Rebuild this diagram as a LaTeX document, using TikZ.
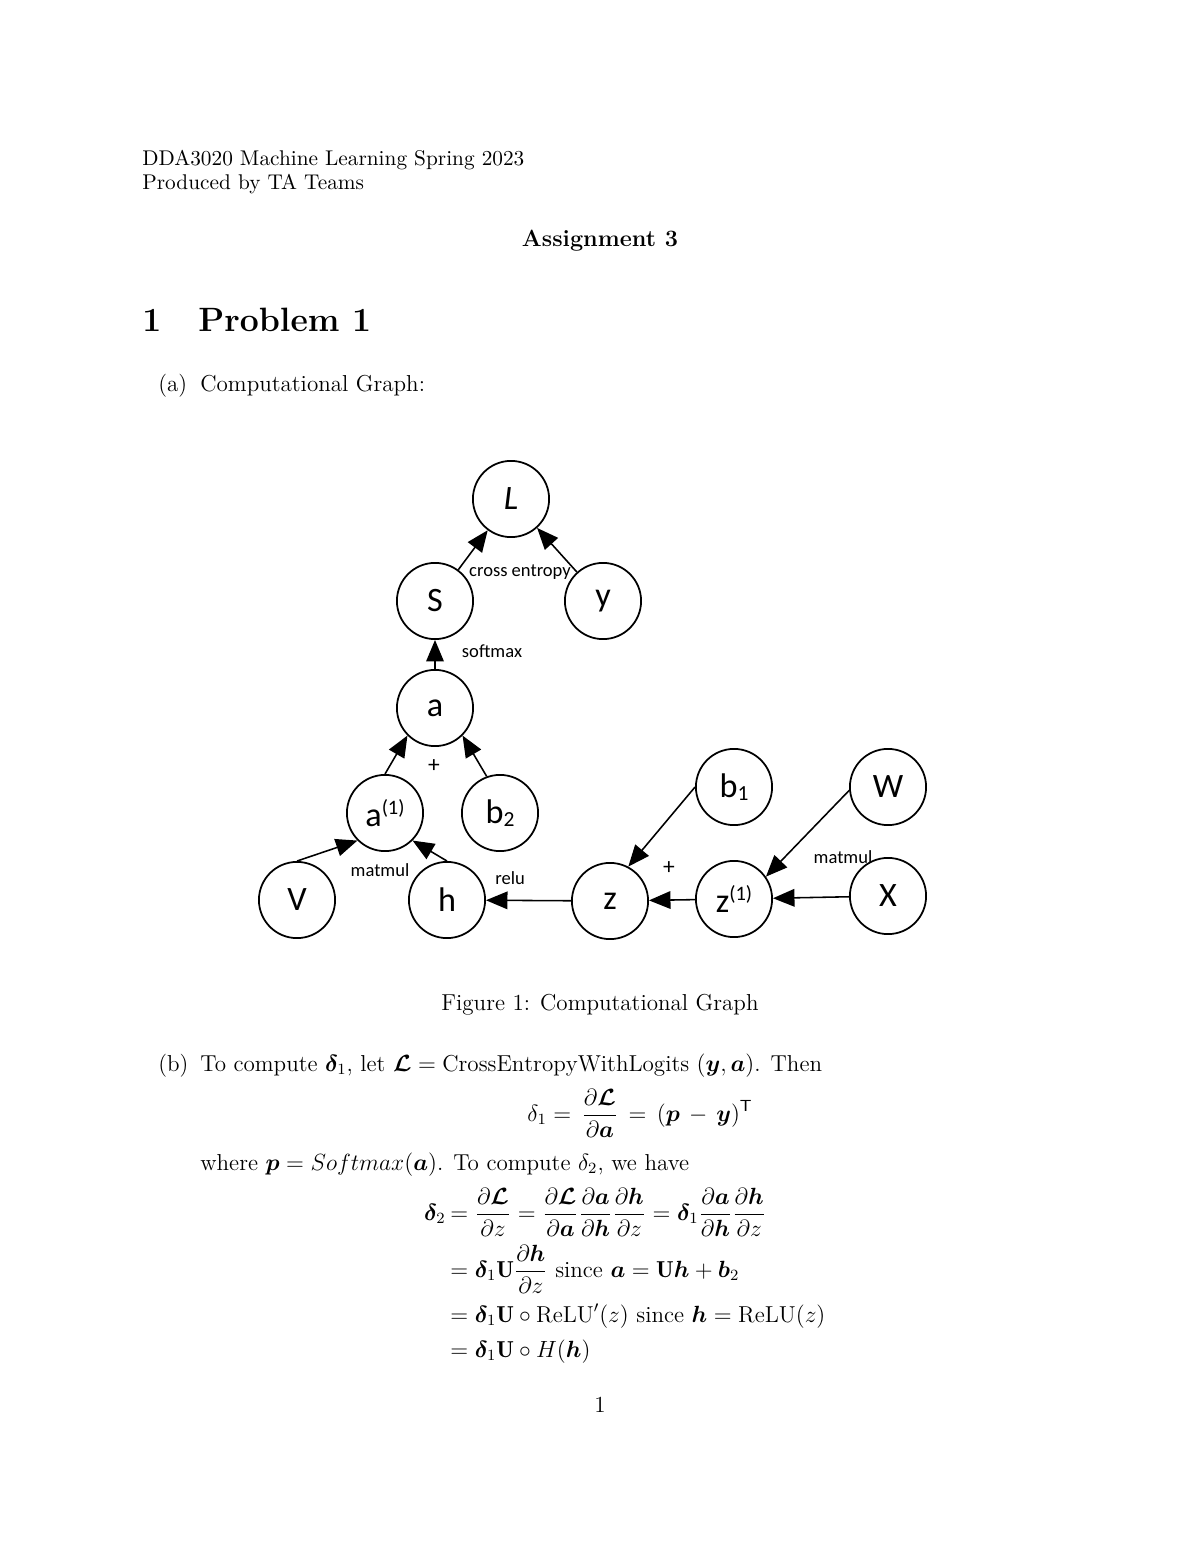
\documentclass[tikz,border=0pt]{standalone}
\usepackage{amsmath}
\usepackage{amssymb}
\usepackage{fontspec}
\usepackage{bm}
\newfontfamily\graphfont{Carlito}
\usetikzlibrary{arrows.meta}

\newcommand{\supone}{\raisebox{6.5pt}{\fontsize{10.5}{12}\selectfont(1)}}
\newcommand{\subnum}[1]{\raisebox{-1.5pt}{\fontsize{11}{12}\selectfont #1}}

\tikzset{
    var/.style={circle, draw, line width=0.9pt, minimum size=39pt, inner sep=0pt,
        font=\graphfont\fontsize{17.5}{20}\selectfont},
    flow/.style={-{Triangle[length=11pt,width=9pt]}, line width=0.8pt},
    oplabel/.style={inner sep=0pt, font=\graphfont\fontsize{9.5}{11}\selectfont},
    txt/.style={anchor=base west, inner sep=0pt, font=\fontsize{11.8}{14}\selectfont},
    headtxt/.style={txt, font=\fontsize{10.9}{13}\selectfont},
}

\begin{document}
\begin{tikzpicture}[x=0.5119pt, y=-0.5119pt]
    \path[fill=white] (0,0) rectangle (1200,1553);

    % header
    \node[headtxt] (course) at (142,166) {DDA3020 Machine Learning Spring 2023};
    \node[headtxt] (team) at (142,190) {Produced by TA Teams};
    \node[txt, anchor=base, font=\fontsize{12}{14}\selectfont\bfseries] (title) at (600,247) {Assignment 3};
    \node[txt, font=\fontsize{17.28}{20}\selectfont\bfseries] (secnum) at (142,332) {1};
    \node[txt, font=\fontsize{17.28}{20}\selectfont\bfseries] (sec) at (198,332) {Problem 1};
    \node[txt] (parta) at (158,392) {(a)};
    \node[txt] (partatext) at (200,392) {Computational Graph:};

    % computational graph
    \node[var] (L) at (511,499) {\itshape L};
    \node[var] (S) at (435,601) {S};
    \node[var] (y) at (603,601) {y};
    \node[var] (a) at (435,708) {a};
    \node[var] (a1) at (385,813) {a\supone};
    \node[var] (b2) at (500,813) {b\subnum{2}};
    \node[var] (V) at (297,900) {V};
    \node[var] (h) at (447,900) {h};
    \node[var] (z) at (610,901) {z};
    \node[var] (z1) at (734,899) {z\supone};
    \node[var] (b1) at (734,787) {b\subnum{1}};
    \node[var] (W) at (888,787) {W};
    \node[var] (X) at (888,896) {X};

    \draw[flow] (S) -- (L);
    \draw[flow] (y) -- (L);
    \draw[flow] (a) -- (S);
    \draw[flow] (a1.north) -- (a.225);
    \draw[flow] (b2.110) -- (a.-45);
    \draw[flow] (V.north) -- (a1.225);
    \draw[flow] (h.north) -- (a1.-45);
    \draw[flow] (z) -- (h);
    \draw[flow] (z1) -- (z);
    \draw[flow] (X) -- (z1);
    \draw[flow] (b1.west) -- (z.62);
    \draw[flow] (W.185) -- (z1.35);

    \node[oplabel] (xent) at (520,572) {cross entropy};
    \node[oplabel] (smax) at (492,651) {softmax};
    \node[oplabel, font=\graphfont\fontsize{12}{13}\selectfont] (plustop) at (434,766) {+};
    \node[oplabel] (mmtop) at (380,870) {matmul};
    \node[oplabel] (relu) at (510,878) {relu};
    \node[oplabel, font=\graphfont\fontsize{12}{13}\selectfont] (plusbot) at (669,868) {+};
    \node[oplabel] (mmbot) at (843,857) {matmul};

    \node[txt, anchor=base] (caption) at (600,1010) {Figure 1: Computational Graph};

    % part (b)
    \node[txt] (partb) at (158,1071) {(b)};
    \node[txt] (partbtext) at (200,1071) {To compute $\bm{\delta}_1$, let $\bm{\mathcal{L}}=\mathrm{CrossEntropyWithLogits}\ (\bm{y},\bm{a})$. Then};
    \node[txt] (eqone) at (527,1121) {$\displaystyle \delta_1=\,\frac{\partial\bm{\mathcal{L}}}{\partial\bm{a}}\,=\,(\bm{p}\,-\,\bm{y})^{\mathsf{T}}$};
    \node[txt] (where) at (200,1170) {where $\bm{p}=Softmax(\bm{a})$. To compute $\delta_2$, we have};

    \node[txt, anchor=base east] (lhs) at (446,1220) {$\bm{\delta}_2$};
    \node[txt] (rowone) at (450,1220) {$\displaystyle =\frac{\partial\bm{\mathcal{L}}}{\partial z}=\frac{\partial\bm{\mathcal{L}}}{\partial\bm{a}}\frac{\partial\bm{a}}{\partial\bm{h}}\frac{\partial\bm{h}}{\partial z}=\bm{\delta}_1\frac{\partial\bm{a}}{\partial\bm{h}}\frac{\partial\bm{h}}{\partial z}$};
    \node[txt] (rowtwo) at (450,1277) {$\displaystyle =\bm{\delta}_1\mathbf{U}\frac{\partial\bm{h}}{\partial z}\ \text{since}\ \bm{a}=\mathbf{U}\bm{h}+\bm{b}_2$};
    \node[txt] (rowthree) at (450,1322) {$=\bm{\delta}_1\mathbf{U}\circ\mathrm{ReLU}'(z)\ \text{since}\ \bm{h}=\mathrm{ReLU}(z)$};
    \node[txt] (rowfour) at (450,1357) {$=\bm{\delta}_1\mathbf{U}\circ H(\bm{h})$};

    \node[txt, anchor=base] (pagenum) at (600,1412) {1};
\end{tikzpicture}
\end{document}
